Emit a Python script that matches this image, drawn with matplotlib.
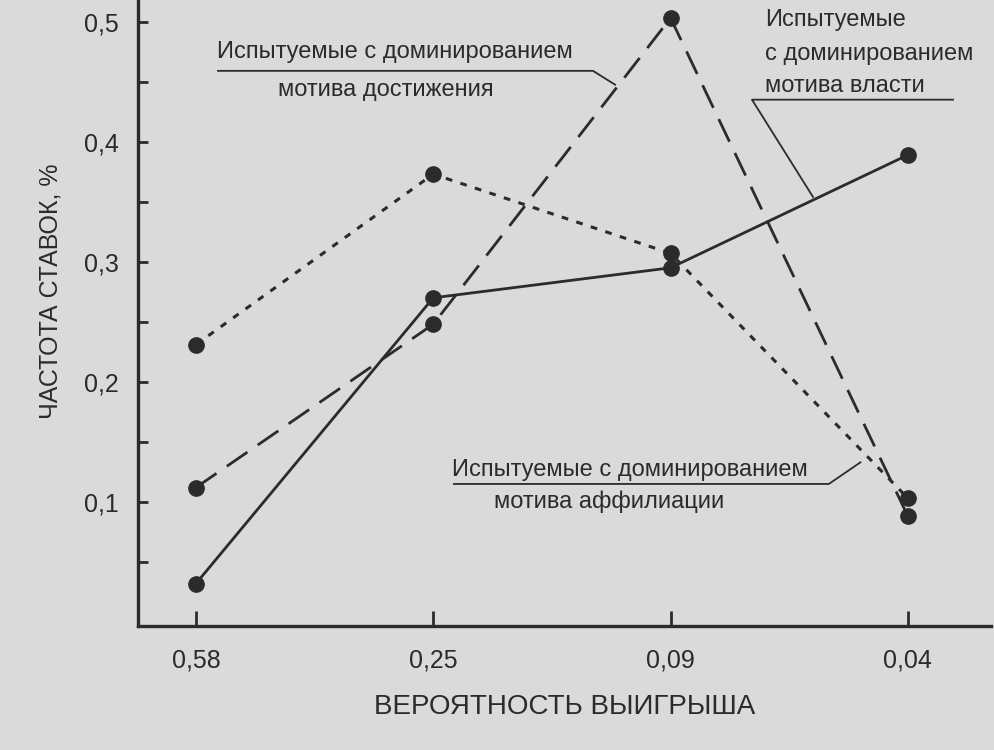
import matplotlib.pyplot as plt
from matplotlib.ticker import FixedLocator

# data
prob_labels = ['0,58', '0,25', '0,09', '0,04']
power = [0.032, 0.270, 0.295, 0.389]        # мотив власти (solid)
achievement = [0.112, 0.248, 0.503, 0.088]  # мотив достижения (dashed)
affiliation = [0.231, 0.373, 0.307, 0.103]  # мотив аффилиации (dotted)

bg = '#dadada'
ink = '#2b2b2b'
font = ['Liberation Sans Narrow', 'Liberation Sans', 'DejaVu Sans']
plt.rcParams['font.family'] = font

fig = plt.figure(figsize=(9.94, 7.5), dpi=100, facecolor=bg)
ax = fig.add_axes([138 / 994, 124 / 750, 853 / 994, 626 / 750], facecolor=bg)

x = range(len(prob_labels))
ax.plot(x, power, color=ink, lw=2.0, ls='-', marker='o', ms=11, zorder=3)
ax.plot(x, achievement, color=ink, lw=2.0, ls=(0, (9, 4.5)), marker='o', ms=11, zorder=3)
ax.plot(x, affiliation, color=ink, lw=2.2, ls=(0, (2.2, 2.8)), marker='o', ms=11, zorder=3)

ax.set_xlim(-0.244, 3.35)
ax.set_ylim(-0.0033, 0.518)
ax.set_xticks(list(x))
ax.set_xticklabels(prob_labels)
ax.set_yticks([0.1, 0.2, 0.3, 0.4, 0.5])
ax.set_yticklabels(['0,1', '0,2', '0,3', '0,4', '0,5'])
ax.yaxis.set_minor_locator(FixedLocator([0.05, 0.15, 0.25, 0.35, 0.45]))

for s in ['top', 'right']:
    ax.spines[s].set_visible(False)
for s in ['left', 'bottom']:
    ax.spines[s].set_linewidth(2.4)
    ax.spines[s].set_color(ink)

ax.tick_params(axis='both', which='both', direction='in', color=ink, width=2.0,
               labelsize=18, labelcolor=ink)
ax.tick_params(axis='y', which='both', length=7, pad=14)
ax.tick_params(axis='x', length=11, pad=16)

ax.set_xlabel('ВЕРОЯТНОСТЬ ВЫИГРЫША', fontsize=20, color=ink, labelpad=16)
ax.set_ylabel('ЧАСТОТА СТАВОК, %', fontsize=18, color=ink)
ax.yaxis.set_label_coords(-0.088, 0.534)

# labels with leader lines
tk = dict(fontsize=17, color=ink)
ax.text(0.84, 0.475, 'Испытуемые с доминированием', ha='center', va='center', **tk)
ax.text(0.80, 0.443, 'мотива достижения', ha='center', va='center', **tk)
ax.plot([0.093, 1.673, 1.766], [0.459, 0.459, 0.4475], color=ink, lw=1.3)

ax.text(2.397, 0.501, 'Испытуемые', ha='left', va='center', **tk)
ax.text(2.397, 0.473, 'с доминированием', ha='left', va='center', **tk)
ax.text(2.397, 0.446, 'мотива власти', ha='left', va='center', **tk)
ax.plot([3.19, 2.343, 2.60], [0.435, 0.435, 0.354], color=ink, lw=1.3)

ax.text(1.83, 0.1265, 'Испытуемые с доминированием', ha='center', va='center', **tk)
ax.text(1.74, 0.100, 'мотива аффилиации', ha='center', va='center', **tk)
ax.plot([1.087, 2.667, 2.80], [0.115, 0.115, 0.133], color=ink, lw=1.3)

fig.savefig('out.png', dpi=100, facecolor=bg)
